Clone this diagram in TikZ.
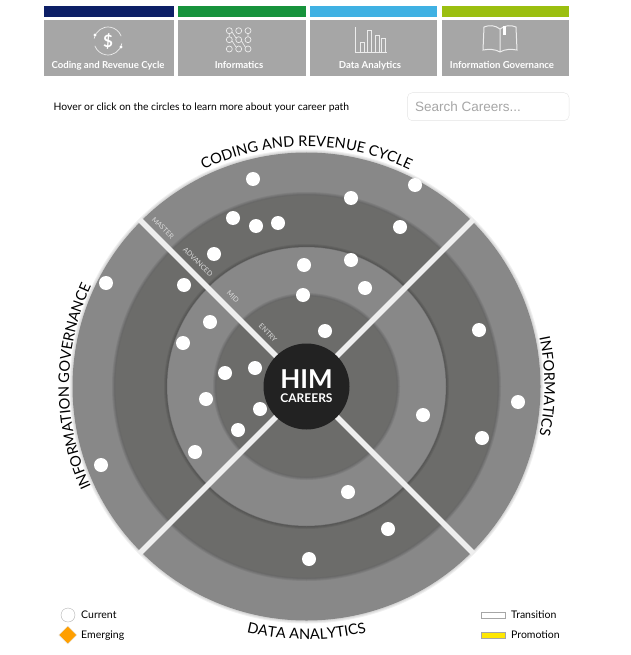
\documentclass[tikz,border=0pt]{standalone}
\usepackage{fontspec}
\setmainfont{Lato}
\newfontfamily\searchfont{Liberation Sans}
\usetikzlibrary{decorations.text,shapes.geometric}
\definecolor{navybar}{HTML}{0D1F66}
\definecolor{greenbar}{HTML}{17933C}
\definecolor{bluebar}{HTML}{3FB1E3}
\definecolor{limebar}{HTML}{9BBF10}
\definecolor{tilegray}{HTML}{A6A6A6}
\definecolor{ringlight}{HTML}{888888}
\definecolor{ringdark}{HTML}{6C6C6A}
\definecolor{hubblack}{HTML}{222222}
\tikzset{
 tilelabel/.style={anchor=base,text=white,font=\fontsize{9.6}{11}\bfseries\selectfont,inner sep=0pt},
 iconline/.style={draw=white!85!gray,line width=.7pt},
 careerdot/.style={circle,fill=white,minimum size=14pt,inner sep=0pt},
 sepline/.style={draw=white!87!gray,line width=5.5pt},
 levellabel/.style={text=white!72!gray,rotate=-45,inner sep=0pt,font=\fontsize{7}{8}\selectfont},
 keylabel/.style={anchor=base west,inner sep=0pt,font=\fontsize{10.5}{12}\selectfont},
 keybar/.style={draw=gray!70,minimum width=24pt,minimum height=6pt,inner sep=0pt},
 arctitle/.style={decorate,decoration={text along path,text align=center,text={|\fontsize{14.6}{18}\selectfont|#1}}}
}
\begin{document}
\begin{tikzpicture}[x=1pt,y=-1pt]
 \useasboundingbox (0,0) rectangle (630,655);
 % tiles
 \foreach \xa/\xb/\barcol in {44/173.7/navybar,178/305.7/greenbar,310/437.3/bluebar,441.7/569/limebar}{
  \fill[\barcol] (\xa,6) rectangle (\xb,16.7);
  \fill[tilegray] (\xa,20) rectangle (\xb,76);
 }
 \node[tilelabel] (tcoding) at (108,69) {Coding and Revenue Cycle};
 \node[tilelabel] (tinfo) at (239,69) {Informatics};
 \node[tilelabel] (tdata) at (370,69) {Data Analytics};
 \node[tilelabel] (tgov) at (502,69) {Information Governance};
 % icons
 \node[text=white,inner sep=0pt,font=\fontsize{17}{18}\bfseries\selectfont] (dollar) at (108,41) {\$};
 \draw[iconline] (108,41) ++(-170:14) arc (-170:-20:14);
 \draw[iconline] (108,41) ++(10:14) arc (10:160:14);
 \fill[white] (95,35) circle (1.6) (121,47) circle (1.6);
 \foreach \ix in {229.3,238.7,248}{\foreach \iy in {30.7,39.7,49}{
  \draw[iconline] (\ix,\iy) circle (3);
 }}
 \draw[iconline] (229.3,33.7)--(229.3,36.7) (232,41)--(236,47) (241.5,41)--(245.2,47) (232,32)--(236,38) (248,33.7)--(248,36.7);
 \draw[iconline] (355,27)--(355,52)--(387,52);
 \draw[iconline] (360,52)--(360,42)--(364,42)--(364,52);
 \draw[iconline] (367,52)--(367,30)--(371,30)--(371,52);
 \draw[iconline] (375,52)--(375,35)--(379,35)--(379,52);
 \draw[iconline] (381.5,52)--(381.5,38)--(385.5,38)--(385.5,52);
 \draw[iconline,line width=1pt] (500,29) .. controls (495,25) and (489,25) .. (484,27)--(483,50) .. controls (489,49) and (495,49) .. (500,52) .. controls (505,49) and (511,49) .. (517,50)--(516,27) .. controls (511,25) and (505,25) .. (500,29)--(500,52);
 \fill[white] (502.5,26) rectangle (505.5,35);
 % hint and search
 \node[anchor=base west,inner sep=0pt,font=\fontsize{10.35}{12}\selectfont] (hint) at (53.5,110.3) {Hover or click on the circles to learn more about your career path};
 \node[draw=gray!22,rounded corners=5pt,minimum width=161.7pt,minimum height=28pt,inner sep=0pt] (search) at (488.2,106.7) {};
 \node[anchor=west,inner sep=0pt,text=gray!70,font=\searchfont\fontsize{13.5}{16}\selectfont] (searchtext) at (415,106.5) {Search Careers...};
 % wheel
 \coordinate (hub) at (306.5,386.5);
 \foreach \i in {1,...,3}{
  \fill[black,opacity=.06] (hub) circle ({234+\i});
 }
 \foreach \ringr/\ringcol in {234/ringlight,191.5/ringdark,139.5/ringlight,90.5/ringdark}{
  \ifdim\ringr pt<234pt
   \foreach \i in {1,...,3}{
    \fill[black,opacity=.07] (hub) circle ({\ringr+\i});
   }
  \fi
  \fill[\ringcol] (hub) circle (\ringr);
  \ifdim\ringr pt<234pt
   \draw[black!60,opacity=.6,line width=.6pt] (hub) circle (\ringr);
  \fi
 }
 \foreach \a/\rimname in {45/se,135/sw,225/nw,315/ne}{
  \coordinate (rim\rimname) at ([shift={(\a:236)}]hub);
  \draw[sepline] (hub) -- (rim\rimname);
 }
 \node[levellabel] (lmaster) at (163,228) {MASTER};
 \node[levellabel] (ladvanced) at (198,262) {ADVANCED};
 \node[levellabel] (lmid) at (233,297) {MID};
 \node[levellabel] (lentry) at (268,333) {ENTRY};
 \foreach \dx/\dy [count=\n] in {253/179,351/198,415/185,233/218,256/226,278/223,400/227,214/254,184/285,106/283,304/265,351/260,365/288,303/295,325/331,210/322,183/343,225/373,255/368,206/399,260/409,238/430,195/452,101/465,479/330,518/402,423/415,482/438,348/492,388/529,309/559}{
  \node[careerdot] (dot\n) at (\dx,\dy) {};
 }
 \node[circle,fill=hubblack,minimum size=86pt,inner sep=0pt] (him) at (hub) {};
 \node[text=white,inner sep=0pt,font=\fontsize{26}{28}\selectfont\bfseries] (himtext) at (306.5,379.5) {HIM};
 \node[text=white,inner sep=0pt,font=\fontsize{12}{13}\selectfont\bfseries] (careerstext) at (306.5,398) {CAREERS};
 % titles round the wheel
 \begin{scope}[x=1pt,y=1pt,shift={(hub)}]
  \path[arctitle={CODING AND REVENUE CYCLE}] (150:240) arc (150:30:240);
  \path[arctitle={INFORMATICS}] (50:238) arc (50:-50:238);
  \path[arctitle={INFORMATION GOVERNANCE}] (-130:237.5) arc (-130:-230:237.5);
  \path[arctitle={DATA ANALYTICS}] (240:253) arc (240:300:253);
 \end{scope}
 % legend
 \node[circle,draw=gray!60,fill=white,minimum size=14pt,inner sep=0pt] (kcurrent) at (68,615) {};
 \node[keylabel] (lcurrent) at (81,618.5) {Current};
 \node[diamond,aspect=1,draw=gray!20,fill=orange!75!yellow,minimum size=18pt,inner sep=0pt] (kemerging) at (67.7,635) {};
 \node[keylabel] (lemerging) at (81,638.5) {Emerging};
 \node[keybar,fill=white] (ktransition) at (493,615) {};
 \node[keylabel] (ltransition) at (511,618.5) {Transition};
 \node[keybar,fill=yellow!90!orange] (kpromotion) at (493,635) {};
 \node[keylabel] (lpromotion) at (511,638.5) {Promotion};
\end{tikzpicture}
\end{document}
